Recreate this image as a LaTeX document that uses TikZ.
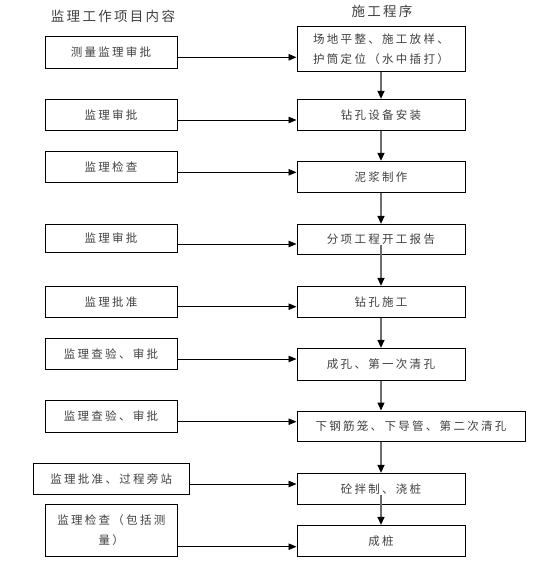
\documentclass[tikz,border=0pt]{standalone}
\usepackage{fontspec}
\usetikzlibrary{arrows.meta}
\newfontfamily\cjk[LetterSpace=20]{Noto Sans CJK SC}
\newfontfamily\cjkhead[LetterSpace=17]{Noto Sans CJK SC}
\definecolor{txt}{HTML}{404040}
\definecolor{vline}{HTML}{6E6E6E}
\begin{document}
\begin{tikzpicture}[x=1pt,y=-1pt,
  box/.style={draw=black,line width=1pt,fill=white,inner sep=0pt,align=center,
    font=\cjk\fontsize{11.5}{20}\selectfont,text=txt},
  head/.style={inner sep=0pt,font=\cjkhead\fontsize{13.5}{15}\selectfont,text=txt},
  hconn/.style={draw=black,line width=0.9pt,-{Triangle[length=8pt,width=6.5pt]}},
  vconn/.style={draw=vline,line width=1.4pt,-{Triangle[length=8pt,width=7pt,color=black,fill=black]}}
]
\useasboundingbox (0,0) rectangle (539,571);
\fill[white] (0,0) rectangle (539,571);

% headers
\node[head] (hl) at (113,16.7) {监理工作项目内容};
\node[head] (hr) at (382,11.7) {施工程序};

% left boxes
\node[box,minimum width=132pt,minimum height=32pt] (L1) at (111,52.3) {测量监理审批};
\node[box,minimum width=132pt,minimum height=30.7pt] (L2) at (111,114.7) {监理审批};
\node[box,minimum width=132pt,minimum height=31pt] (L3) at (111,166.8) {监理检查};
\node[box,minimum width=132pt,minimum height=28pt] (L4) at (111,238.3) {监理审批};
\node[box,minimum width=132pt,minimum height=30.7pt] (L5) at (111,301.7) {监理批准};
\node[box,minimum width=132pt,minimum height=31pt] (L6) at (111,353.8) {监理查验、审批};
\node[box,minimum width=132pt,minimum height=31.6pt] (L7) at (111,416.5) {监理查验、审批};
\node[box,minimum width=156pt,minimum height=30.7pt] (L8) at (111.3,478.7) {监理批准、过程旁站};
\node[box,minimum width=132pt,minimum height=52pt] (L9) at (111.3,530) {监理检查（包括测\\量）};

% right boxes
\node[box,minimum width=168pt,minimum height=45.3pt] (R1) at (381,49.3) {场地平整、施工放样、\\护筒定位（水中插打）};
\node[box,minimum width=168pt,minimum height=30.7pt] (R2) at (381,114.7) {钻孔设备安装};
\node[box,minimum width=168pt,minimum height=31pt] (R3) at (381,176.8) {泥浆制作};
\node[box,minimum width=168pt,minimum height=29.7pt] (R4) at (381,239.2) {分项工程开工报告};
\node[box,minimum width=168pt,minimum height=30.7pt] (R5) at (381,301.7) {钻孔施工};
\node[box,minimum width=168pt,minimum height=31.7pt] (R6) at (381,364.2) {成孔、第一次清孔};
\node[box,minimum width=228pt,minimum height=30pt] (R7) at (411,426) {下钢筋笼、下导管、第二次清孔};
\node[box,minimum width=168pt,minimum height=30.7pt] (R8) at (381,488.7) {砼拌制、浇桩};
\node[box,minimum width=168pt,minimum height=30.7pt] (R9) at (381,540.7) {成桩};

% connector levels
\coordinate (y1) at (0,57.3);
\coordinate (y2) at (0,120);
\coordinate (y3) at (0,172.3);
\coordinate (y4) at (0,244);
\coordinate (y5) at (0,306.7);
\coordinate (y6) at (0,359);
\coordinate (y7) at (0,421.7);
\coordinate (y8) at (0,484);
\coordinate (y9) at (0,546.7);

\draw[hconn] (L1.east |- y1) -- (R1.west |- y1);
\draw[hconn] (L2.east |- y2) -- (R2.west |- y2);
\draw[hconn] (L3.east |- y3) -- (R3.west |- y3);
\draw[hconn] (L4.east |- y4) -- (R4.west |- y4);
\draw[hconn] (L5.east |- y5) -- (R5.west |- y5);
\draw[hconn] (L6.east |- y6) -- (R6.west |- y6);
\draw[hconn] (L7.east |- y7) -- (R7.west |- y7);
\draw[hconn] (L8.east |- y8) -- (R8.west |- y8);
\draw[hconn] (L9.east |- y9) -- (R9.west |- y9);

% vertical flow
\coordinate (v4) at (381,245);
\coordinate (v8) at (381,495);
\draw[vconn] (R1.south) -- (R2.north);
\draw[vconn] (R2.south) -- (R3.north);
\draw[vconn] (R3.south) -- (R4.north);
\draw[vconn] (v4) -- (R5.north);
\draw[vconn] (R5.south) -- (R6.north);
\draw[vconn] (R6.south) -- (R7.north -| R6.south);
\draw[vconn] (R7.south -| R6.south) -- (R8.north);
\draw[vconn] (v8) -- (R9.north);
\end{tikzpicture}
\end{document}
